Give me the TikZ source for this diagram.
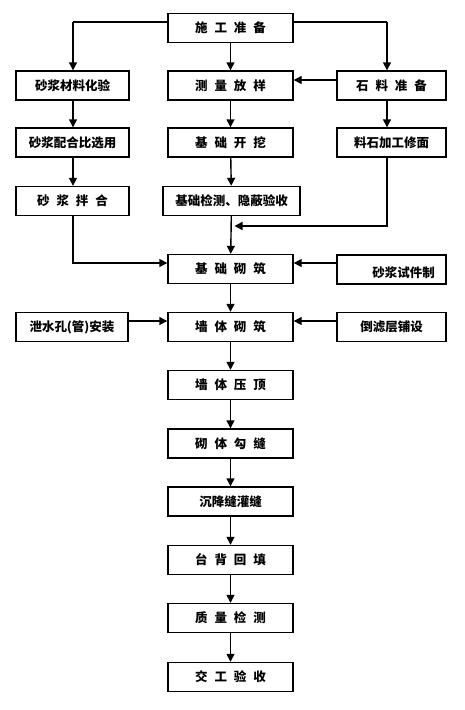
\documentclass[tikz,border=0pt]{standalone}
\usepackage{fontspec}
\setmainfont{Noto Sans CJK SC}
\usetikzlibrary{arrows.meta,calc}
\newcommand\gapx{\hspace{0.55em}}
\tikzset{
  lbl/.style={font=\fontsize{12.5pt}{14pt}\selectfont\bfseries},
  box/.style={draw,line width=1.4pt,minimum height=29pt,inner sep=0pt,lbl},
  mainbox/.style={box,minimum width=125pt},
  sidebox/.style={box,minimum width=111pt},
  arr/.style={line width=1.4pt,-{Triangle[width=8pt,length=8pt]}},
}
\begin{document}
\begin{tikzpicture}[x=1pt,y=-1pt]
\useasboundingbox[fill=white] (0,0) rectangle (464,710);
% main column
\node[mainbox] (sg) at (230.5,28) {施\gapx 工\gapx 准\gapx 备};
\node[mainbox] (cl) at (230.5,85.5) {测\gapx 量\gapx 放\gapx 样};
\node[mainbox] (kw) at (230.5,142.5) {基\gapx 础\gapx 开\gapx 挖};
\node[box,minimum width=137pt] (jc) at (231.5,201) {基础检测、隐蔽验收};
\node[mainbox] (jq) at (230.5,269) {基\gapx 础\gapx 砌\gapx 筑};
\node[mainbox] (qq) at (230.5,327) {墙\gapx 体\gapx 砌\gapx 筑};
\node[mainbox] (yd) at (230.5,385) {墙\gapx 体\gapx 压\gapx 顶};
\node[mainbox] (gf) at (230.5,443.5) {砌\gapx 体\gapx 勾\gapx 缝};
\node[mainbox] (cj) at (230.5,501.5) {沉降缝灌缝};
\node[mainbox] (hb) at (230.5,560) {台\gapx 背\gapx 回\gapx 填};
\node[mainbox] (zl) at (230.5,618) {质\gapx 量\gapx 检\gapx 测};
\node[mainbox] (jg) at (230.5,677) {交\gapx 工\gapx 验\gapx 收};
% left column
\node[sidebox,minimum width=113pt] (zc) at (72.5,85.5) {砂浆材料化验};
\node[sidebox,minimum width=113pt] (pb) at (72.5,142.5) {砂浆配合比选用};
\node[sidebox,minimum width=113pt] (bh) at (72.5,201) {砂\gapx 浆\gapx 拌\gapx 合};
\node[sidebox,minimum width=112pt] (xs) at (72,327) {泄水孔(管)安装};
% right column
\node[sidebox,minimum width=109pt] (sl) at (391.5,85.5) {石\gapx 料\gapx 准\gapx 备};
\node[sidebox,minimum width=109pt] (ls) at (391.5,142.5) {料石加工修面};
\node[sidebox,minimum width=109pt] (sz) at (391.5,269.5) {};
\node[lbl] (szt) at ($(sz.center)+(12,3.5)$) {砂浆试件制};
\node[sidebox,minimum width=109pt] (dl) at (391.5,327) {倒滤层铺设};
% coordinates
\coordinate (tl) at (73,22);
\coordinate (tr) at (387,22);
\coordinate (bl) at (73,263);
\coordinate (br) at (387,226);
\coordinate (bm) at (230.5,226);
% connectors
\draw[line width=1.4pt] ([yshift=6pt]sg.west) -- (tl);
\draw[arr] (tl) -- (tl |- zc.north);
\draw[line width=1.4pt] ([yshift=6pt]sg.east) -- (tr);
\draw[arr] (tr) -- (tr |- sl.north);
\draw[arr] (sg) -- (cl);
\draw[arr] (cl) -- (kw);
\draw[arr] (kw) -- (jc);
\draw[arr] (jc) -- (jq);
\draw[arr] (jq) -- (qq);
\draw[arr] (qq) -- (yd);
\draw[arr] (yd) -- (gf);
\draw[arr] (gf) -- (cj);
\draw[arr] (cj) -- (hb);
\draw[arr] (hb) -- (zl);
\draw[arr] (zl) -- (jg);
\draw[arr] ([xshift=0.5pt]zc.south) -- ([xshift=0.5pt]pb.north);
\draw[arr] ([xshift=0.5pt]pb.south) -- ([xshift=0.5pt]bh.north);
\draw[arr] ([xshift=0.5pt]bh.south) -- (bl) -- (bl -| jq.west);
\draw[arr] ([xshift=-4.5pt]sl.south) -- ([xshift=-4.5pt]ls.north);
\draw[arr] ([xshift=-4.5pt]ls.south) -- (br) -- ([xshift=4pt]bm);
\draw[arr] ([yshift=5.5pt]sl.west) -- ([yshift=5.5pt]sl.west -| cl.east);
\draw[arr] ([yshift=6.5pt]sz.west) -- ([yshift=6.5pt]sz.west -| jq.east);
\draw[arr] ([yshift=6pt]xs.east) -- ([yshift=6pt]xs.east -| qq.west);
\draw[arr] ([yshift=6pt]dl.west) -- ([yshift=6pt]dl.west -| qq.east);
\end{tikzpicture}
\end{document}
